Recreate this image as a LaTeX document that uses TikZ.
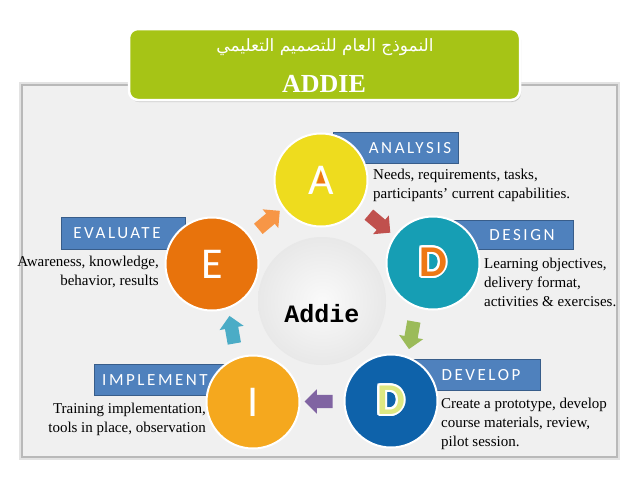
\documentclass[tikz,border=0pt]{standalone}
\usepackage{fontspec}
\setmainfont{Liberation Serif}
\newfontfamily\labfont{Carlito}[LetterSpace=15]
\newfontfamily\letterfont{Carlito}
\newfontfamily\hubfont{Liberation Mono}
\newfontfamily\arabicfont[Script=Arabic]{DejaVu Sans}
\TeXXeTstate=1
\usepackage{contour}
\contourlength{2pt}
\usetikzlibrary{calc,shapes.arrows,shadows}

\definecolor{panel}{RGB}{240,240,240}
\definecolor{bannergreen}{RGB}{166,196,22}
\definecolor{boxblue}{RGB}{79,129,189}
\definecolor{boxborder}{RGB}{56,93,138}
\definecolor{colA}{RGB}{238,220,30}
\definecolor{colDesign}{RGB}{22,158,180}
\definecolor{colDevelop}{RGB}{14,98,170}
\definecolor{colI}{RGB}{245,168,30}
\definecolor{colE}{RGB}{232,115,12}
\definecolor{innerOrange}{RGB}{238,120,20}
\definecolor{innerLime}{RGB}{222,232,130}
\definecolor{arOrange}{RGB}{247,150,70}
\definecolor{arRed}{RGB}{192,80,77}
\definecolor{arGreen}{RGB}{155,187,89}
\definecolor{arPurple}{RGB}{128,100,162}
\definecolor{arTeal}{RGB}{75,172,198}

\def\outlined#1#2{\textcolor{#1}{\contour{white}{\bfseries #2}}}

\tikzset{
  banner/.style={draw=white, line width=2.5pt, fill=bannergreen, rounded corners=9pt,
    drop shadow={opacity=0.35, shadow xshift=1pt, shadow yshift=-2pt}},
  phase/.style={circle, draw=white, line width=2pt, minimum size=93pt, inner sep=0pt,
    text=white, font=\letterfont\fontsize{44}{44}\selectfont},
  stagebox/.style={draw=boxborder, fill=boxblue, line width=0.8pt, inner sep=0pt},
  stagename/.style={text=white, inner sep=0pt, font=\labfont\fontsize{17}{17}\selectfont},
  stagetext/.style={inner sep=0pt, font=\fontsize{15}{19}\selectfont},
  turn/.style={single arrow, single arrow head extend=5.5pt, single arrow head indent=0pt,
    inner sep=0pt, inner ysep=6.5pt, minimum height=28pt},
  hub/.style={circle, minimum size=128pt, inner color=gray!4, outer color=gray!18},
}

\begin{document}
\begin{tikzpicture}[x=1pt, y=-1pt]
		%%%%% START %%%%%
		\useasboundingbox (0,0) rectangle (638,479);
		\fill[white] (0,0) rectangle (638,479);
		
		\draw[line width=6pt, color=gray!22] (22,85) rectangle (617,457);
		\draw[line width=2.5pt, color=gray!55, fill=panel] (22,85) rectangle (617,457);
		
		\node[banner, minimum width=391pt, minimum height=71pt] (banner) at (324.5,64.5) {};
		\node[text=white, font=\arabicfont\fontsize{17}{17}\selectfont] (titleAr) at (325,47) {\beginR النموذج العام للتصميم التعليمي\endR};
		\node[text=white, font=\bfseries\fontsize{26}{26}\selectfont] (titleEn) at (324,84) {ADDIE};
		
		\node[stagebox, minimum width=125pt, minimum height=31pt] (boxA) at (395.5,147.5) {};
		\node[stagebox, minimum width=128pt, minimum height=29pt] (boxDesign) at (509,234.5) {};
		\node[stagebox, minimum width=124pt, minimum height=32pt] (boxE) at (123,233) {};
		\node[stagebox, minimum width=141pt, minimum height=31pt] (boxI) at (164.5,379.5) {};
		\node[stagebox, minimum width=145pt, minimum height=31pt] (boxDevelop) at (467.5,374.5) {};
		
		\node[stagename] (nameA) at (410,148) {ANALYSIS};
		\node[stagename] (nameDesign) at (522,235) {DESIGN};
		\node[stagename] (nameE) at (117,233) {EVALUATE};
		\node[stagename] (nameI) at (155,380) {IMPLEMENT};
		\node[stagename] (nameDevelop) at (481,375) {DEVELOP};
		
		\node[phase, fill=colA] (nA) at (321,180) {};
		\fill[innerOrange] (321,170) -- (316,186) -- (326,186) -- cycle;
		\node[text=white, font=\letterfont\fontsize{44}{44}\selectfont] (letterA) at (nA) {A};
		\node[phase, fill=colDesign] (nDesign) at (433,263) {\outlined{innerOrange}{D}};
		\node[phase, fill=colDevelop] (nDevelop) at (391,401) {\outlined{innerLime}{D}};
		\node[phase, fill=colI] (nI) at (253,402) {I};
		\node[phase, fill=colE] (nE) at (212,264) {E};
		
		\node[hub] (nAddie) at (322,301) {};
		\node[font=\hubfont\bfseries\fontsize{25}{25}\selectfont] (hubText) at (322,314) {Addie};
		
		\node[stagetext, anchor=north west, align=left] (textA) at (373,169) {Needs, requirements, tasks,\\participants’ current capabilities.};
		\node[stagetext, anchor=north west, align=left] (textDesign) at (484,258) {Learning objectives,\\delivery format,\\activities \& exercises.};
		\node[stagetext, anchor=north east, align=right] (textE) at (159,256) {Awareness, knowledge,\\behavior, results};
		\node[stagetext, anchor=north east, align=right] (textI) at (206,403) {Training implementation,\\tools in place, observation};
		\node[stagetext, anchor=north west, align=left] (textDevelop) at (441,398) {Create a prototype, develop\\course  materials, review,\\pilot session.};
		
		\node[turn, fill=arOrange, rotate=40] (arEA) at ($(nE)!0.5!(nA)$) {};
		\node[turn, fill=arRed, rotate=-40] (arAD) at ($(nA)!0.5!(nDesign)$) {};
		\node[turn, fill=arGreen, rotate=-100] (arDD) at ($(nDesign)!0.5!(nDevelop)$) {};
		\node[turn, fill=arPurple, rotate=180] (arDI) at ($(nDevelop)!0.5!(nI)$) {};
		\node[turn, fill=arTeal, rotate=100] (arIE) at ($(nI)!0.5!(nE)$) {};
		
		%%%%% END %%%%%
\end{tikzpicture}
\end{document}
